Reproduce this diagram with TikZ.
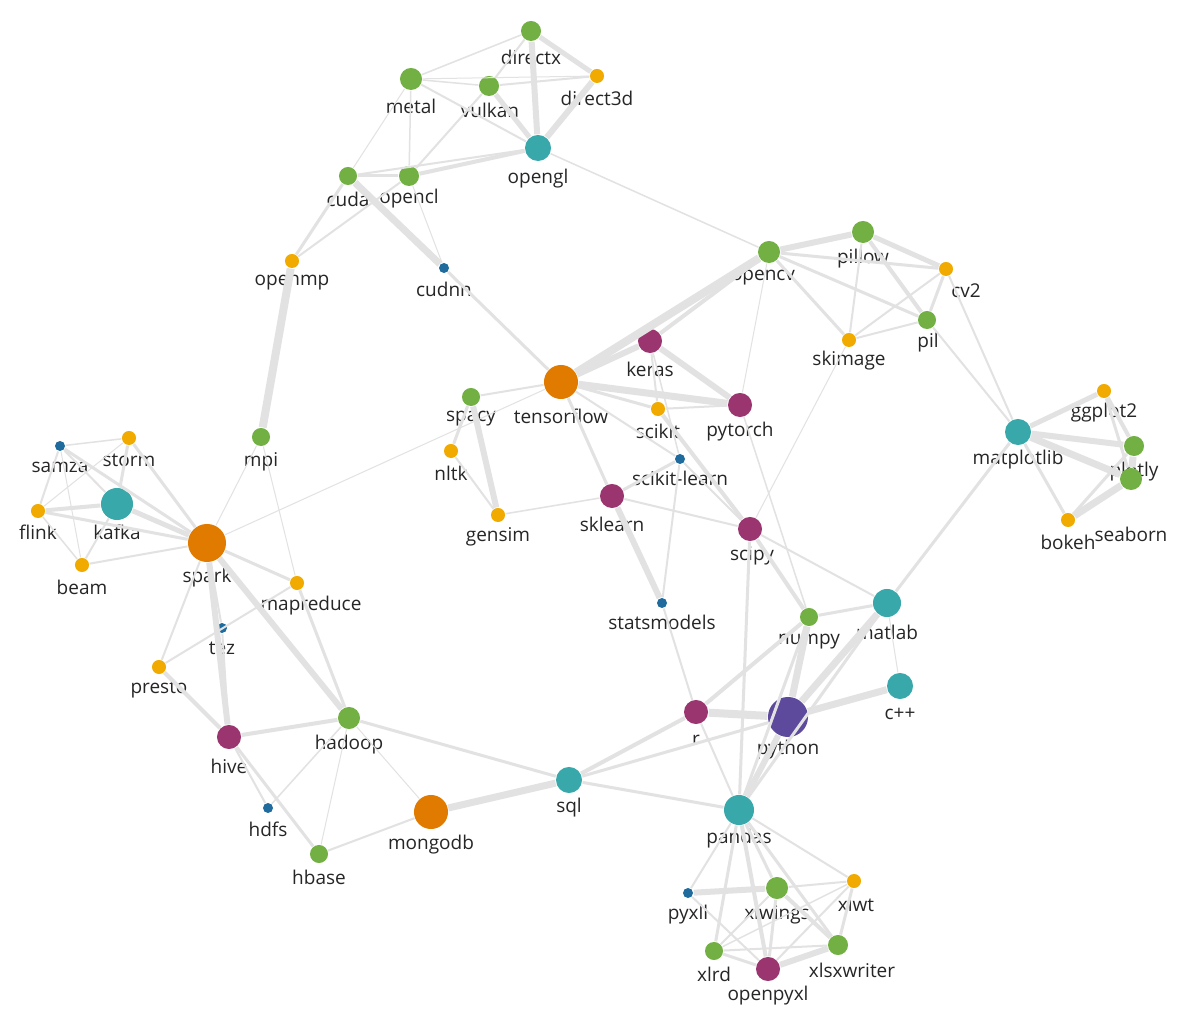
\documentclass[tikz,border=0pt]{standalone}
\usepackage{fontspec}
\setmainfont{Open Sans}
\definecolor{cg}{HTML}{72B043}
\definecolor{cy}{HTML}{F0AA00}
\definecolor{ct}{HTML}{38A8AA}
\definecolor{co}{HTML}{E07B00}
\definecolor{cp}{HTML}{9B3570}
\definecolor{cb}{HTML}{1F6B9E}
\definecolor{cv}{HTML}{5E4A9C}
\definecolor{ce}{HTML}{E2E2E2}
\begin{document}
\begin{tikzpicture}[x=0.01cm,y=-0.01cm,
  nd/.style={circle,inner sep=0pt,minimum size=#1*0.02cm},
  lab/.style={font=\fontsize{5.4}{6}\selectfont,text=black!85,inner sep=0pt}]
\useasboundingbox[fill=white] (0,0) rectangle (1200,1022);
\foreach \n/\x/\y/\r/\c/\t/\lx/\ly in {
directx/531/31/10/cg/directx/531/57,
metal/411/79/11/cg/metal/411/106,
vulkan/489/86/10/cg/vulkan/490/110,
direct3d/597/76/7/cy/direct3d/597/98,
opengl/538/148/13/ct/opengl/538/179,
cuda/348/176/9/cg/cuda/348/199,
opencl/409/176/10/cg/opencl/409/199,
openmp/292/261/7/cy/openmp/292/283,
cudnn/444/268/5/cb/cudnn/444/289,
opencv/769/252/11/cg/opencv/763/278,
pillow/863/232/11/cg/pillow/863/259,
cvtwo/946/269/7/cy/cv2/966/291,
pil/927/320/9/cg/pil/928/343,
skimage/849/340/7/cy/skimage/849/361,
keras/650/341/12/cp/keras/650/369,
tensorflow/561/382/17/co/tensorflow/561/416,
pytorch/740/405/12/cp/pytorch/740/432,
spacy/471/397/9/cg/spacy/471/419,
scikit/658/409/7/cy/scikit/658/431,
sklearnb/680/459/5/cb/scikit-learn/680/478,
nltk/451/451/7/cy/nltk/451/473,
gensim/498/515/7/cy/gensim/498/537,
sklearn/612/496/12/cp/sklearn/612/524,
scipy/750/529/12/cp/scipy/752/556,
statsmodels/662/603/5/cb/statsmodels/662/622,
matplotlib/1018/432/13/ct/matplotlib/1018/460,
ggplot/1104/391/7/cy/ggplot2/1104/413,
plotly/1134/446/10/cg/plotly/1134/472,
seaborn/1131/479/11/cg/seaborn/1131/534,
bokeh/1068/520/7/cy/bokeh/1068/542,
samza/60/446/5/cb/samza/60/467,
storm/129/438/7/cy/storm/129/460,
kafka/117/504/16/ct/kafka/117/532,
flink/38/511/7/cy/flink/38/532,
beam/82/565/7/cy/beam/82/587,
mpi/261/437/9/cg/mpi/261/462,
spark/207/543/19/co/spark/207/578,
mapreduce/297/583/7/cy/mapreduce/311/606,
tez/222/628/5/cb/tez/222/648,
presto/159/667/7/cy/presto/159/690,
hive/229/737/12/cp/hive/229/766,
hadoop/349/718/11/cg/hadoop/349/745,
hdfs/268/808/5/cb/hdfs/268/829,
hbase/319/854/9/cg/hbase/319/877,
mongodb/431/812/17/co/mongodb/431/845,
sql/569/780/13/ct/sql/569/808,
numpy/809/617/9/cg/numpy/809/642,
matlab/887/603/14/ct/matlab/887/632,
cpp/900/686/13/ct/c++/900/714,
r/696/712/12/cp/r/696/740,
python/788/717/20/cv/python/788/750,
pandas/739/810/15/ct/pandas/739/839,
pyxll/688/893/5/cb/pyxll/688/915,
xlwings/777/888/11/cg/xlwings/777/915,
xlwt/854/881/7/cy/xlwt/856/904,
xlrd/714/951/9/cg/xlrd/714/974,
openpyxl/768/969/12/cp/openpyxl/768/996,
xlsxwriter/838/945/10/cg/xlsxwriter/852/970}
{\node[nd=\r,fill=\c] (\n) at (\x,\y) {};
 \node[lab] at (\lx,\ly) {\t};}
\foreach \a/\b/\w in {
directx/vulkan/2,directx/direct3d/5,directx/metal/1.5,directx/opengl/6,
metal/vulkan/1.5,metal/direct3d/1,metal/opengl/2,vulkan/direct3d/2,vulkan/opengl/5,
direct3d/opengl/6,metal/cuda/1,metal/opencl/1.5,vulkan/opencl/2,opengl/opencl/4,
opengl/cuda/2,opengl/opencv/1.5,cuda/opencl/3,cuda/openmp/3,opencl/openmp/2,
cuda/cudnn/7,opencl/cudnn/1,cudnn/tensorflow/3,openmp/mpi/8,
opencv/pillow/6,opencv/cvtwo/3,opencv/pil/3,opencv/skimage/3,opencv/tensorflow/8,
opencv/keras/4,opencv/pytorch/1,pillow/pil/4,pillow/cvtwo/5,pillow/skimage/2,
cvtwo/skimage/2,cvtwo/pil/3,pil/skimage/2,cvtwo/matplotlib/2,pil/matplotlib/2,
skimage/scipy/1,
tensorflow/keras/6,tensorflow/pytorch/7,tensorflow/scikit/3,tensorflow/spacy/2,
tensorflow/sklearn/3,tensorflow/sklearnb/2,keras/pytorch/6,keras/scikit/2,
keras/sklearnb/1.5,pytorch/scikit/2,pytorch/numpy/1.5,spacy/nltk/3,spacy/gensim/6,
nltk/gensim/2,gensim/sklearn/1.5,sklearn/sklearnb/3,sklearn/scipy/2,
sklearn/statsmodels/6,scikit/scipy/4,sklearnb/scipy/2,sklearnb/statsmodels/2,
statsmodels/r/2,scipy/numpy/4,scipy/matlab/2,scipy/pandas/3,tensorflow/spark/1,
numpy/matlab/3,numpy/python/7,numpy/r/4,numpy/pandas/3,matlab/python/7,
matlab/cpp/1,matlab/matplotlib/3,matlab/pandas/3,python/cpp/7,python/r/8,
python/pandas/6,python/sql/3,r/sql/4,r/pandas/2,sql/pandas/3,sql/mongodb/7,
sql/hadoop/3,hadoop/mongodb/1,mongodb/hbase/2,hadoop/hdfs/1.5,hadoop/hbase/1,
hive/hadoop/4,hive/hbase/3,hive/hdfs/2,hive/spark/6,hive/presto/4,hive/tez/2,
spark/hadoop/6,spark/mapreduce/3,spark/tez/2,spark/kafka/5,spark/storm/3,
spark/samza/3,spark/flink/3,spark/beam/2,spark/mpi/1,mapreduce/hadoop/3,
mapreduce/presto/2,mapreduce/mpi/1,presto/spark/2,kafka/samza/2,kafka/storm/3,
kafka/flink/4,kafka/beam/2,samza/storm/1.5,samza/flink/2,samza/beam/1,
flink/beam/1.5,storm/flink/1,
matplotlib/ggplot/5,matplotlib/plotly/6,matplotlib/seaborn/7,matplotlib/bokeh/3,
ggplot/plotly/4,ggplot/seaborn/3,plotly/seaborn/7,plotly/bokeh/3,seaborn/bokeh/7,
pandas/pyxll/2,pandas/xlwings/3,pandas/xlwt/2,pandas/xlrd/3,pandas/openpyxl/4,
pandas/xlsxwriter/3,pyxll/xlwings/6,xlwings/xlwt/2,xlwings/xlrd/2,
xlwings/openpyxl/3,xlwings/xlsxwriter/4,xlwt/xlrd/1.5,xlwt/openpyxl/2,
xlwt/xlsxwriter/3,xlrd/openpyxl/3,xlrd/xlsxwriter/2,openpyxl/xlsxwriter/6,
pyxll/openpyxl/2}
{\draw[ce,line width=\w*0.2845pt] (\a) -- (\b);}
\end{tikzpicture}
\end{document}
